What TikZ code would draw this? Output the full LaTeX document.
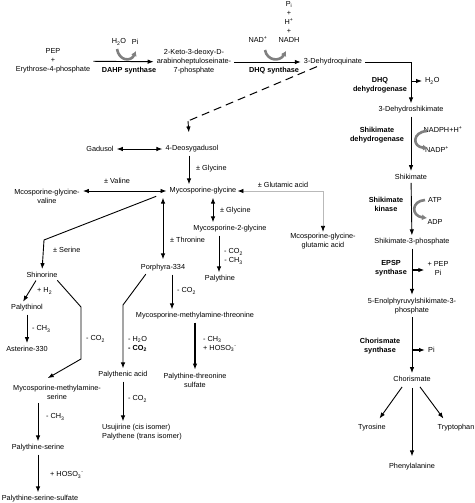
\documentclass[tikz,border=0pt]{standalone}
\usepackage{fontspec}
\setmainfont{Liberation Sans}
\usetikzlibrary{arrows.meta}

\begin{document}
\begin{tikzpicture}[x=1pt,y=-1pt,
    every node/.style={font=\fontsize{7.3}{9}\selectfont,inner sep=1pt,align=center},
    enz/.style={font=\fontsize{7.3}{9}\selectfont\bfseries},
    lbl/.style={anchor=west},
    arr/.style={-{Latex[length=6pt,width=4.5pt]},line width=0.9pt,shorten <=2pt,shorten >=2pt},
    dbl/.style={{Latex[length=6pt,width=4.5pt]}-{Latex[length=6pt,width=4.5pt]},line width=0.9pt,shorten <=2pt,shorten >=2pt},
    side/.style={-{Latex[length=5pt,width=6pt]},line width=2.6pt,gray},
    glu/.style={{Latex[length=6pt,width=4.5pt,black]}-{Latex[length=6pt,width=4.5pt,black]},gray!55,line width=0.8pt}]
  \useasboundingbox (0,0) rectangle (474,503);

  % shikimate pathway
  \node (pep) at (53,61) {PEP\\+\\Erythrose-4-phosphate};
  \node (kdp) at (194,62) {2-Keto-3-deoxy-D-\\arabinoheptuloseinate-\\7-phosphate};
  \node (dhq) at (333,62) {3-Dehydroquinate};
  \node (dhs) at (411,110) {3-Dehydroshikimate};
  \node (shk) at (411,177) {Shikimate};
  \node (s3p) at (412,242) {Shikimate-3-phosphate};
  \node (epsp) at (412,306) {5-Enolphyruvylshikimate-3-\\phosphate};
  \node (cho) at (412,379) {Chorismate};
  \node (tyr) at (372,428) {Tyrosine};
  \node (trp) at (456,428) {Tryptophan};
  \node (phe) at (412,467) {Phenylalanine};

  \node[enz] (dahps) at (129,71) {DAHP synthase};
  \node[enz] (dhqs) at (274,71) {DHQ synthase};
  \node[enz] (dhqd) at (380,85.5) {DHQ\\dehydrogenase};
  \node[enz] (skd) at (377,135.5) {Shikimate\\dehydrogenase};
  \node[enz] (skk) at (386,204.5) {Shikimate\\kinase};
  \node[enz] (epsps) at (391,268.5) {EPSP\\synthase};
  \node[enz] (chos) at (380,346.5) {Chorismate\\synthase};

  \node (h2oa) at (119,42) {H\textsubscript{2}O};
  \node (pia) at (135,42) {Pi};
  \node (nad) at (258,40) {NAD\textsuperscript{+}};
  \node (nadh) at (289,22) {P\textsubscript{i}\\+\\H\textsuperscript{+}\\+\\NADH};
  \node[lbl] (h2ob) at (424,81) {H\textsubscript{2}O};
  \node (nadph) at (443,130) {NADPH+H\textsuperscript{+}};
  \node (nadp) at (437,150) {NADP\textsuperscript{+}};
  \node (atp) at (435,200) {ATP};
  \node (adp) at (435,222) {ADP};
  \node (pepi) at (438,268) {+ PEP\\Pi};
  \node[lbl] (pib) at (427,350) {Pi};

  \draw[arr] (pep) -- (kdp);
  \draw[arr] (kdp) -- (dhq);
  \draw[arr] (dhq.east) -| (dhs.north);
  \draw[arr] (dhs) -- (shk);
  \draw[arr] (shk) -- (s3p);
  \draw[arr] (s3p) -- (epsp);
  \draw[arr] (epsp) -- (cho);
  \draw[arr,shorten <=5pt,shorten >=6pt] ([xshift=-7pt]cho.south) -- ([xshift=4pt]tyr.north);
  \draw[arr,shorten <=5pt,shorten >=6pt] ([xshift=5pt]cho.south) -- ([xshift=-9pt]trp.north);
  \draw[arr,shorten <=5pt,shorten >=6pt] (cho) -- (phe);

  \coordinate (b1) at (411.5,81);
  \coordinate (b2) at (411.5,270);
  \coordinate (b3) at (411.5,350);
  \draw[arr,shorten <=0pt] (b1) -- (h2ob);
  \draw[arr,line width=1.4pt,shorten <=0pt] (b2) -- (pepi.west |- b2);
  \draw[arr,line width=1.4pt,shorten <=0pt] (b3) -- (pib);

  \draw[side] (117,49) .. controls (119,61) and (131,62) .. (136,51);
  \draw[side] (265,50) .. controls (267,61) and (280,62) .. (286,51);
  \draw[side] (427,131) .. controls (412,132) and (412,147) .. (428,148);
  \draw[side] (425,200) .. controls (411,201) and (411,216) .. (427,218);

  % mycosporine-like amino acids
  \node (gad) at (100,149) {Gadusol};
  \node (deo) at (192,149) {4-Deosygadusol};
  \node (mg) at (203,191) {Mycosporine-glycine};
  \node (mgv) at (47,196) {Mcosporine-glycine-\\valine};
  \node (mg2) at (230,229) {Mycosporine-2-glycine};
  \node (mgg) at (323,241) {Mcosporine-glycine-\\glutamic acid};
  \node (pal) at (220,279) {Palythine};
  \node (por) at (163,268) {Porphyra-334};
  \node (shi) at (42,275) {Shinorine};
  \node (pol) at (27,308) {Palythinol};
  \node (ast) at (27,349) {Asterine-330};
  \node (mms) at (57,392.5) {Mycosporine-methylamine-\\serine};
  \node (pser) at (38,448) {Palythine-serine};
  \node (pss) at (40,499) {Palythine-serine-sulfate};
  \node (mmt) at (195,316) {Mycosporine-methylamine-threonine};
  \node (pts) at (195,380) {Palythine-threonine\\sulfate};
  \node (pac) at (123,375) {Palythenic acid};
  \node[align=left,anchor=west] (usu) at (101,432.5) {Usujirine (cis isomer)\\Palythene (trans isomer)};

  \node[lbl] (r1) at (195,169) {± Glycine};
  \node (r2) at (117,181) {± Valine};
  \node (r3) at (283,185) {± Glutamic acid};
  \node[lbl] (r4) at (219,211) {± Glycine};
  \node[lbl] (r5) at (169,240) {± Thronine};
  \node[lbl] (r6) at (52,250) {± Serine};
  \node[lbl] (r7) at (223,256.5) {- CO\textsubscript{2}\\- CH\textsubscript{3}};
  \node[lbl] (r8) at (36,291) {+ H\textsubscript{2}};
  \node[lbl] (r9) at (31,329) {- CH\textsubscript{3}};
  \node[lbl] (r10) at (85,339) {- CO\textsubscript{2}};
  \node[lbl] (r11) at (176,291) {- CO\textsubscript{2}};
  \node[lbl,align=left] (r12) at (127,344) {- H\textsubscript{2}O\\\textbf{- CO\textsubscript{2}}};
  \node[lbl,align=left] (r13) at (202,344) {- CH\textsubscript{3}\\+ HOSO\textsubscript{3}\textsuperscript{-}};
  \node[lbl] (r14) at (127,399) {- CO\textsubscript{2}};
  \node[lbl] (r15) at (45,417) {- CH\textsubscript{3}};
  \node[lbl] (r16) at (49,475) {+ HOSO\textsubscript{3}\textsuperscript{-}};

  \coordinate (d1) at (188,121);
  \coordinate (c1) at (44,240);
  \coordinate (c2) at (81,307);
  \coordinate (c3) at (81,359);
  \coordinate (c4) at (123,305);
  \draw[line width=1pt,dash pattern=on 8pt off 5pt] ([xshift=-16pt]dhq.south) -- (d1);
  \draw[arr,shorten <=0pt] (d1) -- ([xshift=-3pt,yshift=10pt]deo.north);
  \draw[dbl] (gad) -- (deo);
  \draw[arr] ([xshift=-3pt]deo.south) -- ([xshift=-14pt]mg.north);
  \draw[dbl] (mg.west -| mgv.east) -- (mg.west);
  \draw[glu] (mg.east) -| (mgg.north);
  \draw[dbl] ([xshift=10pt]mg.south) -- ([xshift=-17pt]mg2.north);
  \draw[arr] ([xshift=-11pt]mg2.south) -- ([xshift=-1pt]pal.north);
  \draw[dbl,shorten >=4pt] (mg.south -| por.north) -- (por.north);
  \draw[arr] ([xshift=-45pt]mg.south) -- (c1) -- (shi.north);
  \draw[arr] ([xshift=-5pt]shi.south) -- ([xshift=-5pt]pol.north);
  \draw[arr] (pol) -- (ast);
  \draw[arr] ([xshift=14pt]shi.south) -- (c2) -- (c3) -- ([xshift=-11pt,yshift=5pt]mms.north);
  \draw[arr] ([xshift=-19pt]mms.south) -- (pser.north);
  \draw[arr] (pser.south) -- (pser.south |- pss.north);
  \draw[arr] ([xshift=-16pt]por.south) -- (c4) -- (pac.north);
  \draw[arr] ([xshift=9pt]por.south) -- ([xshift=-23pt]mmt.north);
  \draw[arr,line width=1.4pt] (mmt) -- (pts);
  \draw[arr] (pac.south) -- (pac.south |- usu.north);
\end{tikzpicture}
\end{document}
